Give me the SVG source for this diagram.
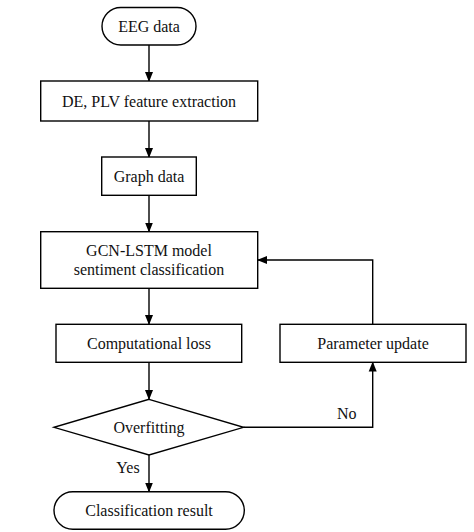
<svg xmlns="http://www.w3.org/2000/svg" width="474" height="532" viewBox="0 0 474 532">
<style>
.n{fill:#fff;stroke:#000;stroke-width:1.4}
.t{font-family:"Liberation Serif",serif;font-size:16px;fill:#111;text-anchor:middle;dominant-baseline:central}
.c{fill:none;stroke:#000;stroke-width:1.4}
</style>
<defs>
<marker id="a" markerWidth="10" markerHeight="10" refX="9" refY="5" orient="auto" markerUnits="userSpaceOnUse">
<path d="M0,1 L10,5 L0,9 Z" fill="#000"/>
</marker>
</defs>
<rect width="474" height="532" fill="#fff"/>
<g id="connectors">
<line class="c" x1="149" y1="45" x2="149" y2="81" marker-end="url(#a)"/>
<line class="c" x1="149" y1="121" x2="149" y2="157" marker-end="url(#a)"/>
<line class="c" x1="149" y1="195" x2="149" y2="231.5" marker-end="url(#a)"/>
<line class="c" x1="149" y1="288.5" x2="149" y2="324" marker-end="url(#a)"/>
<line class="c" x1="149" y1="362.5" x2="149" y2="399" marker-end="url(#a)"/>
<line class="c" x1="149" y1="455" x2="149" y2="491.5" marker-end="url(#a)"/>
<polyline class="c" points="243.5,427.3 372.7,427.3 372.7,362.5" marker-end="url(#a)"/>
<polyline class="c" points="372.7,324.3 372.7,260 258,260" marker-end="url(#a)"/>
<text class="t" x="346.7" y="413">No</text>
<text class="t" x="128" y="467">Yes</text>
</g>
<g id="eeg">
<rect class="n" x="102" y="7.5" width="94" height="37.5" rx="18.75"/>
<text class="t" x="149" y="26.5">EEG data</text>
</g>
<g id="feature">
<rect class="n" x="40.7" y="81" width="217" height="40"/>
<text class="t" x="149" y="101">DE, PLV feature extraction</text>
</g>
<g id="graph">
<rect class="n" x="101.7" y="157" width="94.6" height="38.3"/>
<text class="t" x="149" y="176">Graph data</text>
</g>
<g id="gcn">
<rect class="n" x="40.7" y="231.7" width="217" height="56.6"/>
<text class="t" x="149" y="250">GCN-LSTM model</text>
<text class="t" x="149" y="269.5">sentiment classification</text>
</g>
<g id="loss">
<rect class="n" x="56" y="324.3" width="185.7" height="38"/>
<text class="t" x="149" y="343.5">Computational loss</text>
</g>
<g id="param">
<rect class="n" x="280" y="324.3" width="186" height="38"/>
<text class="t" x="373" y="343.5">Parameter update</text>
</g>
<g id="overfit">
<polygon class="n" points="149,399.3 243.5,427.3 149,455 54,427.3"/>
<text class="t" x="149" y="427.5">Overfitting</text>
</g>
<g id="result">
<rect class="n" x="54" y="491.7" width="190.3" height="37.6" rx="18.8"/>
<text class="t" x="149" y="510.5">Classification result</text>
</g>
</svg>
